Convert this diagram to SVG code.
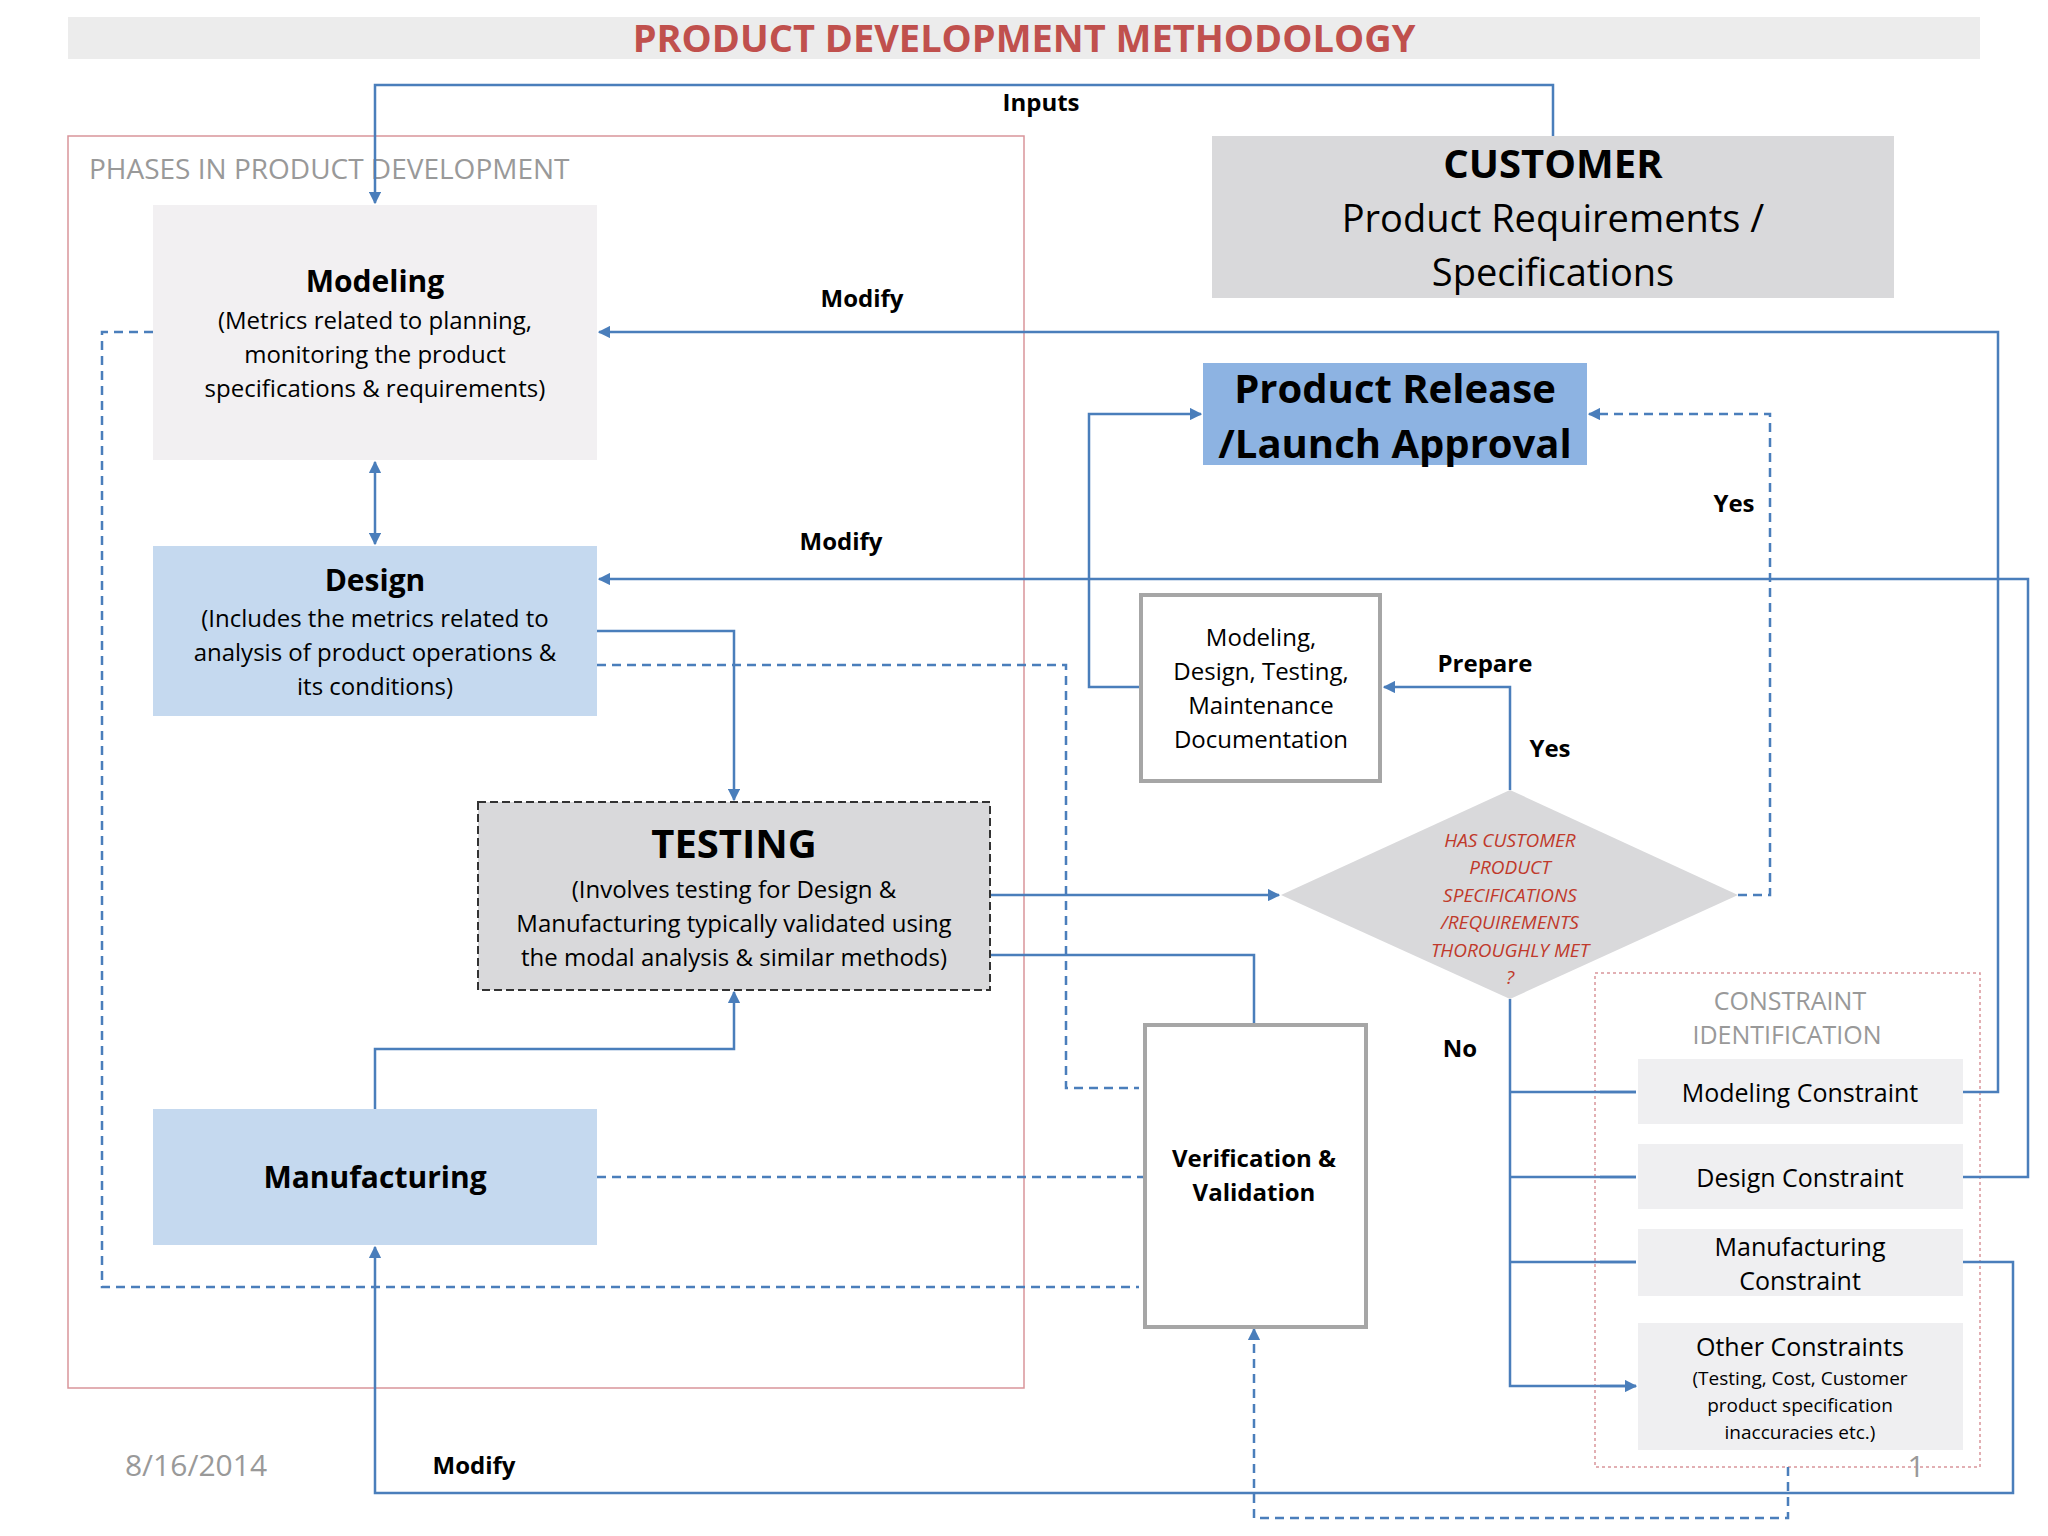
<svg xmlns="http://www.w3.org/2000/svg" width="2048" height="1536" viewBox="0 0 2048 1536">
<defs>
<marker id="ah" viewBox="0 0 10 10" refX="9" refY="5" markerWidth="5" markerHeight="5" orient="auto-start-reverse"><path d="M0,0 L10,5 L0,10 z" fill="#4a7ebb"/></marker>
<style>
text{font-family:"Open Sans","Noto Sans",sans-serif;text-anchor:middle;fill:#000}
.b{font-weight:bold}
.c{fill:none;stroke:#4a7ebb;stroke-width:2.5}
.d{stroke-dasharray:9 6}
.lb{font-weight:bold;font-size:24px}
.t{font-size:24px}
.r{fill:#c0392b;font-style:italic;font-size:19px}
.g{fill:#999}
</style>
</defs>
<rect width="2048" height="1536" fill="#fff"/>
<rect x="68" y="17" width="1912" height="42" fill="#ececec"/>
<text x="1024" y="52" class="b" font-size="38" fill="#c0504d" style="fill:#c0504d">PRODUCT DEVELOPMENT METHODOLOGY</text>
<rect x="68" y="136" width="956" height="1252" fill="none" stroke="#d9959a" stroke-width="1.5"/>
<text x="89" y="179" font-size="28" style="text-anchor:start" class="g">PHASES IN PRODUCT DEVELOPMENT</text>
<rect x="1595" y="973" width="385" height="494" fill="none" stroke="#d9959a" stroke-width="1.5" stroke-dasharray="3 3"/>
<text x="1790" y="1010" font-size="25" class="g">CONSTRAINT</text>
<text x="1787" y="1044" font-size="25" class="g">IDENTIFICATION</text>
<g id="connectors">
<path class="c" d="M1553,136 V85 H375 V203" marker-end="url(#ah)"/>
<path class="c" d="M1963,1092 H1998 V332 H599" marker-end="url(#ah)"/>
<path class="c" d="M1963,1177 H2028 V579 H599" marker-end="url(#ah)"/>
<path class="c" d="M1963,1262 H2013 V1493 H375 V1247" marker-end="url(#ah)"/>
<path class="c" d="M375,462 V544" marker-start="url(#ah)" marker-end="url(#ah)"/>
<path class="c" d="M597,631 H734 V800" marker-end="url(#ah)"/>
<path class="c" d="M375,1109 V1049 H734 V992" marker-end="url(#ah)"/>
<path class="c" d="M990,895 H1279" marker-end="url(#ah)"/>
<path class="c" d="M990,955 H1254 V1023"/>
<path class="c" d="M1510,790 V687 H1384" marker-end="url(#ah)"/>
<path class="c" d="M1139,687 H1089 V414 H1201" marker-end="url(#ah)"/>
<path class="c d" d="M1738,895 H1770 V414 H1589" marker-end="url(#ah)"/>
<path class="c" d="M1510,999 V1386 H1636 M1510,1092 H1636 M1510,1177 H1636 M1510,1262 H1636" />
<path class="c" d="M1600,1092 H1636 M1600,1177 H1636 M1600,1262 H1636 M1600,1386 H1636" marker-end="url(#ah)"/>
<path class="c d" d="M153,332 H102 V1287 H1139"/>
<path class="c d" d="M597,665 H1066 V1088 H1139"/>
<path class="c d" d="M597,1177 H1143"/>
<path class="c d" d="M1788,1467 V1518 H1254 V1329" marker-end="url(#ah)"/>
<text x="1041" y="111" class="lb">Inputs</text>
<text x="862" y="307" class="lb">Modify</text>
<text x="841" y="550" class="lb">Modify</text>
<text x="474" y="1474" class="lb">Modify</text>
<text x="1485" y="672" class="lb">Prepare</text>
<text x="1550" y="757" class="lb">Yes</text>
<text x="1734" y="512" class="lb">Yes</text>
<text x="1460" y="1057" class="lb">No</text>
</g>
<g id="modeling"><rect x="153" y="205" width="444" height="255" fill="#f2f0f2"/>
<text x="375" y="292" class="b" font-size="30">Modeling</text>
<text x="375" y="329" class="t">(Metrics related to planning,</text>
<text x="375" y="363" class="t">monitoring the product</text>
<text x="375" y="397" class="t">specifications &amp; requirements)</text></g>
<g id="design"><rect x="153" y="546" width="444" height="170" fill="#c5d9ef"/>
<text x="375" y="591" class="b" font-size="30">Design</text>
<text x="375" y="627" class="t">(Includes the  metrics related to</text>
<text x="375" y="661" class="t">analysis of product operations &amp;</text>
<text x="375" y="695" class="t">its conditions)</text></g>
<g id="testing"><rect x="478" y="802" width="512" height="188" fill="#d9d9db" stroke="#333" stroke-width="2" stroke-dasharray="8 4"/>
<text x="734" y="858" class="b" font-size="40">TESTING</text>
<text x="734" y="898" class="t">(Involves  testing for Design &amp;</text>
<text x="734" y="932" class="t">Manufacturing typically validated using</text>
<text x="734" y="966" class="t">the modal analysis  &amp; similar methods)</text></g>
<g id="manufacturing"><rect x="153" y="1109" width="444" height="136" fill="#c5d9ef"/>
<text x="375" y="1188" class="b" font-size="30">Manufacturing</text></g>
<g id="customer"><rect x="1212" y="136" width="682" height="162" fill="#d9d9db"/>
<text x="1553" y="178" class="b" font-size="40">CUSTOMER</text>
<text x="1553" y="232" font-size="38">Product Requirements /</text>
<text x="1553" y="286" font-size="38">Specifications</text></g>
<g id="release"><rect x="1203" y="363" width="384" height="102" fill="#8db3e2"/>
<text x="1395" y="403" class="b" font-size="40">Product  Release</text>
<text x="1395" y="458" class="b" font-size="40">/Launch Approval</text></g>
<g id="documentation"><rect x="1141" y="595" width="239" height="186" fill="#fff" stroke="#a6a6a6" stroke-width="4"/>
<text x="1261" y="646" class="t">Modeling,</text>
<text x="1261" y="680" class="t">Design, Testing,</text>
<text x="1261" y="714" class="t">Maintenance</text>
<text x="1261" y="748" class="t">Documentation</text></g>
<g id="decision"><polygon points="1281,895 1510,790 1738,895 1510,999" fill="#d9d9db"/>
<text x="1510" y="847" class="r">HAS CUSTOMER</text>
<text x="1510" y="874" class="r">PRODUCT</text>
<text x="1510" y="902" class="r">SPECIFICATIONS</text>
<text x="1510" y="929" class="r">/REQUIREMENTS</text>
<text x="1510" y="957" class="r">THOROUGHLY MET</text>
<text x="1510" y="984" class="r">?</text></g>
<g id="verification"><rect x="1145" y="1025" width="221" height="302" fill="#fff" stroke="#a6a6a6" stroke-width="4"/>
<text x="1254" y="1167" class="lb">Verification &amp;</text>
<text x="1254" y="1201" class="lb">Validation</text></g>
<g id="c-modeling"><rect x="1638" y="1059" width="325" height="65" fill="#efeff1"/>
<text x="1800" y="1102" font-size="25">Modeling  Constraint</text></g>
<g id="c-design"><rect x="1638" y="1144" width="325" height="65" fill="#efeff1"/>
<text x="1800" y="1187" font-size="25">Design  Constraint</text></g>
<g id="c-manufacturing"><rect x="1638" y="1229" width="325" height="67" fill="#efeff1"/>
<text x="1800" y="1256" font-size="25">Manufacturing</text>
<text x="1800" y="1290" font-size="25">Constraint</text></g>
<g id="c-other"><rect x="1638" y="1323" width="325" height="127" fill="#efeff1"/>
<text x="1800" y="1356" font-size="25">Other  Constraints</text>
<text x="1800" y="1385" font-size="19">(Testing, Cost, Customer</text>
<text x="1800" y="1412" font-size="19">product specification</text>
<text x="1800" y="1439" font-size="19">inaccuracies etc.)</text></g>
<text x="196" y="1476" font-size="30" class="g">8/16/2014</text>
<text x="1916" y="1477" font-size="30" class="g">1</text>
</svg>
